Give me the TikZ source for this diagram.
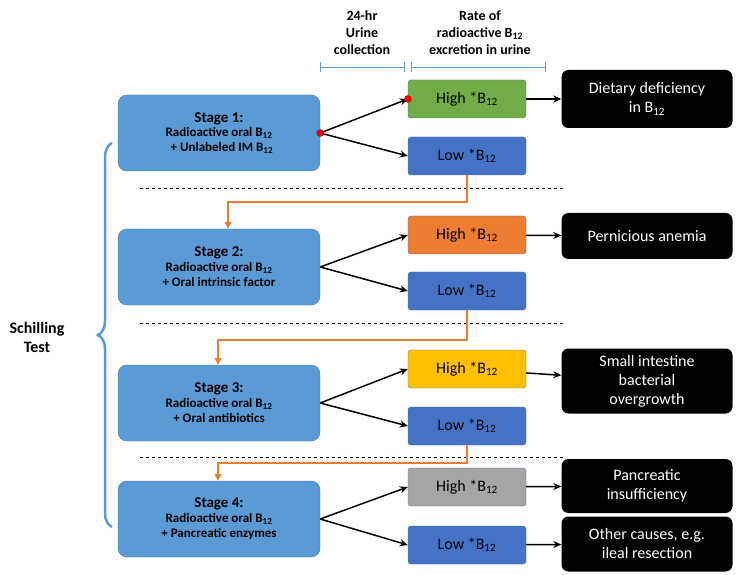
\documentclass[tikz,border=0pt]{standalone}
\usepackage{fontspec}
\setmainfont{Carlito}
\usetikzlibrary{arrows.meta,decorations.pathreplacing}
\definecolor{stg}{HTML}{5B9BD5}
\definecolor{stgb}{HTML}{41719C}
\definecolor{lowc}{HTML}{4472C4}
\definecolor{grn}{HTML}{70AD47}
\definecolor{org}{HTML}{ED7D31}
\definecolor{yel}{HTML}{FFC000}
\definecolor{gry}{HTML}{A5A5A5}
\definecolor{brc}{HTML}{5B9BD5}
\begin{document}
\begin{tikzpicture}[x=1pt,y=-1pt,
 stage/.style={draw=stgb,fill=stg,rounded corners=9pt,minimum width=202pt,minimum height=76pt,align=center,font=\bfseries\fontsize{13}{15}\selectfont,inner sep=2pt},
 res/.style={draw=stgb,rounded corners=3pt,minimum width=118pt,minimum height=38pt,font=\fontsize{16}{18}\selectfont},
 outc/.style={fill=black,text=white,rounded corners=7pt,minimum width=171pt,align=center,font=\fontsize{16}{19}\selectfont},
 arr/.style={-{Stealth[length=8pt,width=7pt]},line width=1.5pt},
 oarr/.style={draw=org,line width=1.3pt,-{Triangle[length=7pt,width=7pt]}},
 sepline/.style={dashed,line width=0.8pt},
 hdr/.style={align=center,font=\bfseries\fontsize{14}{17}\selectfont},
 bracket/.style={draw=brc,line width=0.8pt},
 rdot/.style={circle,fill=red,draw=red!60!black,inner sep=0pt,minimum size=7pt}]
\useasboundingbox (0,0) rectangle (740,575);
\newcommand{\bb}{B\textsubscript{12}}
% headers
\node[hdr] (h1) at (362,33) {24-hr\\Urine\\collection};
\node[hdr] (h2) at (480,33) {Rate of\\radioactive \bb\\excretion in urine};
\draw[bracket] (320,67) -- (404,67) (320,62) -- (320,72) (404,62) -- (404,72);
\draw[bracket] (411,67) -- (545,67) (411,62) -- (411,72) (545,62) -- (545,72);
% stages
\node[stage] (s1) at (219,133) {\fontsize{15}{18}\selectfont Stage 1:\\Radioactive oral \bb\\\ \ + Unlabeled IM \bb};
\node[stage] (s2) at (219,267) {\fontsize{15}{18}\selectfont Stage 2:\\Radioactive oral \bb\\+ Oral intrinsic factor};
\node[stage] (s3) at (219,403) {\fontsize{15}{18}\selectfont Stage 3:\\Radioactive oral \bb\\+ Oral antibiotics};
\node[stage] (s4) at (219,519) {\fontsize{15}{18}\selectfont Stage 4:\\Radioactive oral \bb\\+ Pancreatic enzymes};
% results
\node[res,fill=grn] (hi1) at (467,99) {High *\bb};
\node[res,fill=lowc] (lo1) at (467,156) {Low *\bb};
\node[res,fill=org] (hi2) at (467,235) {High *\bb};
\node[res,fill=lowc] (lo2) at (467,291) {Low *\bb};
\node[res,fill=yel] (hi3) at (467,369) {High *\bb};
\node[res,fill=lowc] (lo3) at (467,426) {Low *\bb};
\node[res,fill=gry] (hi4) at (467,487) {High *\bb};
\node[res,fill=lowc] (lo4) at (467,545) {Low *\bb};
% outcomes
\node[outc,minimum height=58pt] (o1) at (647,99) {Dietary deficiency\\in \bb};
\node[outc,minimum height=46pt] (o2) at (647,236) {Pernicious anemia};
\node[outc,minimum height=65pt] (o3) at (647,381) {Small intestine\\bacterial\\overgrowth};
\node[outc,minimum height=54pt] (o4) at (647,486) {Pancreatic\\insufficiency};
\node[outc,minimum height=55pt] (o5) at (647,544) {Other causes, e.g.\\ileal resection};
% arrows
\foreach \s/\h/\l in {s1/hi1/lo1,s2/hi2/lo2,s3/hi3/lo3,s4/hi4/lo4}{
 \draw[arr] (\s.east) -- (\h.west);
 \draw[arr] (\s.east) -- (\l.west);}
\draw[arr] (hi1) -- (o1);
\draw[arr] (hi2) -- (o2);
\draw[arr] (hi3) -- (o3);
\draw[arr] (hi4) -- (o4);
\draw[arr] (lo4) -- (o5);
\node[rdot] (d1) at (s1.east) {};
\node[rdot] (d2) at (hi1.west) {};
% dashed separators
\coordinate (da1) at (140,188); \coordinate (db1) at (565,188);
\coordinate (da2) at (140,323); \coordinate (db2) at (565,323);
\coordinate (da3) at (140,457); \coordinate (db3) at (565,457);
\draw[sepline] (da1) -- (db1); \draw[sepline] (da2) -- (db2); \draw[sepline] (da3) -- (db3);
% orange
\coordinate (c1) at (228,202); \coordinate (c2) at (218,340); \coordinate (c3) at (218,463);
\draw[oarr] (lo1.south) |- (c1) -- (c1 |- s2.north);
\draw[oarr] (lo2.south) |- (c2) -- (c2 |- s3.north);
\draw[oarr] (lo3.south) |- (c3) -- (c3 |- s4.north);
% brace
\coordinate (ba) at (112,527); \coordinate (bt) at (112,143);
\draw[draw=brc,line width=2.5pt,decorate,decoration={brace,amplitude=14pt}] (ba) -- (bt);
\node[font=\bfseries\fontsize{16}{19}\selectfont,align=center] (st) at (37,337) {Schilling\\Test};
\end{tikzpicture}
\end{document}
